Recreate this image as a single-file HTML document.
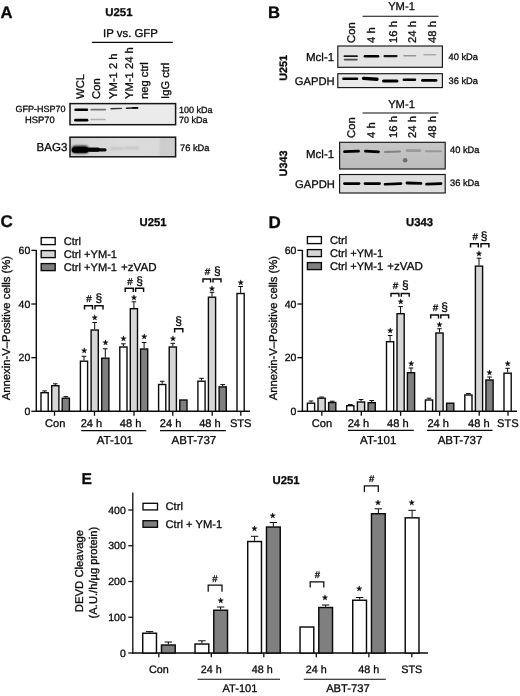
<!DOCTYPE html>
<html lang="en"><head><meta charset="utf-8"><title>Figure</title>
<style>html,body{margin:0;padding:0;background:#fff}svg{display:block}text{fill:#0a0a0a;stroke:#0a0a0a;stroke-width:0.3px;stroke-linejoin:round}</style>
</head><body>
<svg width="520" height="696" viewBox="0 0 520 696" font-family='"Liberation Sans", sans-serif' text-rendering="geometricPrecision">
<defs><filter id="b1" filterUnits="userSpaceOnUse" x="0" y="0" width="520" height="696"><feGaussianBlur stdDeviation="0.7"/></filter><filter id="b2" filterUnits="userSpaceOnUse" x="0" y="0" width="520" height="696"><feGaussianBlur stdDeviation="1.1"/></filter><linearGradient id="gA2" x1="0" x2="1" y1="0" y2="0"><stop offset="0" stop-color="#d2d2d2"/><stop offset="0.5" stop-color="#dcdcdc"/><stop offset="0.84" stop-color="#dadada"/><stop offset="0.86" stop-color="#cccccc"/><stop offset="1" stop-color="#cfcfcf"/></linearGradient><linearGradient id="gB3" x1="0" x2="0" y1="0" y2="1"><stop offset="0" stop-color="#c6c6c6"/><stop offset="1" stop-color="#bcbcbc"/></linearGradient></defs>
<text x="0.40" y="18.30" font-size="16.6" font-weight="bold">A</text>
<text x="118.90" y="16.20" font-size="11.4" text-anchor="middle" font-weight="bold">U251</text>
<text x="130.50" y="36.80" font-size="11.4" text-anchor="middle">IP vs. GFP</text>
<line x1="92.00" y1="42.45" x2="172.80" y2="42.45" stroke="#0a0a0a" stroke-width="1.25"/>
<text transform="translate(84.10 98.90) rotate(-90)" font-size="11.2">WCL</text>
<text transform="translate(100.10 98.90) rotate(-90)" font-size="11.2">Con</text>
<text transform="translate(117.10 98.90) rotate(-90)" font-size="11.2">YM-1 2 h</text>
<text transform="translate(133.10 98.90) rotate(-90)" font-size="11.2">YM-1 24 h</text>
<text transform="translate(148.10 98.90) rotate(-90)" font-size="11.2">neg ctrl</text>
<text transform="translate(169.10 98.90) rotate(-90)" font-size="11.2">IgG ctrl</text>
<text x="15.50" y="111.50" font-size="9">GFP-HSP70</text>
<text x="25.00" y="123.00" font-size="9.4">HSP70</text>
<text x="36.60" y="150.90" font-size="11.5">BAG3</text>
<text x="179.00" y="112.50" font-size="9">100 kDa</text>
<text x="179.00" y="123.10" font-size="9">70 kDa</text>
<text x="180.00" y="151.10" font-size="9.3">76 kDa</text>
<clipPath id="cA1"><rect x="70" y="103.6" width="105.6" height="21.10000000000001"/></clipPath>
<rect x="70.00" y="103.60" width="105.60" height="21.10" fill="#ebebeb"/>
<g clip-path="url(#cA1)">
<line x1="75.50" y1="109.70" x2="87.00" y2="109.70" stroke="#000" stroke-width="2.4" stroke-linecap="round" opacity="1.0" filter="url(#b1)"/>
<line x1="75.50" y1="120.20" x2="87.00" y2="120.20" stroke="#000" stroke-width="2.8" stroke-linecap="round" opacity="1.0" filter="url(#b1)"/>
<line x1="91.00" y1="109.60" x2="105.50" y2="109.60" stroke="#555" stroke-width="1.6" stroke-linecap="round" opacity="0.8" filter="url(#b1)"/>
<line x1="91.00" y1="119.60" x2="105.00" y2="119.60" stroke="#888" stroke-width="1.5" stroke-linecap="round" opacity="0.6" filter="url(#b1)"/>
<line x1="111.00" y1="108.80" x2="121.50" y2="108.40" stroke="#222" stroke-width="1.4" stroke-linecap="round" opacity="0.9" filter="url(#b1)"/>
<line x1="126.50" y1="108.20" x2="137.50" y2="107.80" stroke="#111" stroke-width="1.5" stroke-linecap="round" opacity="0.95" filter="url(#b1)"/>
<line x1="133.00" y1="107.90" x2="137.50" y2="107.90" stroke="#000" stroke-width="1.8" stroke-linecap="round" opacity="0.9" filter="url(#b1)"/>
</g>
<rect x="70.00" y="103.60" width="105.60" height="21.10" fill="none" stroke="#151515" stroke-width="1.5"/>
<clipPath id="cA2"><rect x="70" y="137.2" width="105.6" height="19.600000000000023"/></clipPath>
<rect x="70.00" y="137.20" width="105.60" height="19.60" fill="url(#gA2)"/>
<g clip-path="url(#cA2)">
<line x1="75.50" y1="149.50" x2="85.00" y2="149.50" stroke="#000" stroke-width="7.5" stroke-linecap="round" opacity="1" filter="url(#b2)"/>
<line x1="74.50" y1="150.00" x2="86.00" y2="150.00" stroke="#000" stroke-width="5.5" stroke-linecap="round" opacity="1" filter="url(#b1)"/>
<line x1="90.00" y1="149.80" x2="105.00" y2="149.80" stroke="#000" stroke-width="3.2" stroke-linecap="round" opacity="0.95" filter="url(#b1)"/>
<line x1="89.00" y1="149.60" x2="98.00" y2="149.60" stroke="#000" stroke-width="4.2" stroke-linecap="round" opacity="0.95" filter="url(#b1)"/>
<line x1="111.00" y1="148.50" x2="123.00" y2="148.50" stroke="#aaa" stroke-width="2.5" stroke-linecap="round" opacity="0.5" filter="url(#b2)"/>
<line x1="126.00" y1="148.00" x2="138.00" y2="148.00" stroke="#aaa" stroke-width="2.5" stroke-linecap="round" opacity="0.5" filter="url(#b2)"/>
</g>
<rect x="70.00" y="137.20" width="105.60" height="19.60" fill="none" stroke="#151515" stroke-width="1.5"/>
<text x="268.00" y="17.80" font-size="16.6" font-weight="bold">B</text>
<text x="401.50" y="10.20" font-size="11.2" text-anchor="middle">YM-1</text>
<line x1="362.50" y1="16.30" x2="438.50" y2="16.30" stroke="#0a0a0a" stroke-width="1.1"/>
<text transform="translate(354.90 42.90) rotate(-90)" font-size="11.2">Con</text>
<text transform="translate(375.40 42.90) rotate(-90)" font-size="11.2">4 h</text>
<text transform="translate(396.90 42.90) rotate(-90)" font-size="11.2">16 h</text>
<text transform="translate(415.90 42.90) rotate(-90)" font-size="11.2">24 h</text>
<text transform="translate(435.90 42.90) rotate(-90)" font-size="11.2">48 h</text>
<text x="401.50" y="107.60" font-size="11.2" text-anchor="middle">YM-1</text>
<line x1="362.50" y1="113.00" x2="438.50" y2="113.00" stroke="#0a0a0a" stroke-width="1.1"/>
<text transform="translate(354.90 137.90) rotate(-90)" font-size="11.2">Con</text>
<text transform="translate(375.40 137.90) rotate(-90)" font-size="11.2">4 h</text>
<text transform="translate(396.90 137.90) rotate(-90)" font-size="11.2">16 h</text>
<text transform="translate(415.90 137.90) rotate(-90)" font-size="11.2">24 h</text>
<text transform="translate(435.90 137.90) rotate(-90)" font-size="11.2">48 h</text>
<text x="306.00" y="61.30" font-size="11.5">Mcl-1</text>
<text x="294.80" y="84.90" font-size="11.2">GAPDH</text>
<text transform="translate(287.40 67.80) rotate(-90)" font-size="10.8" text-anchor="middle" font-weight="bold">U251</text>
<text x="448.50" y="60.00" font-size="9.3">40 kDa</text>
<text x="448.50" y="83.80" font-size="9.3">36 kDa</text>
<clipPath id="cB1"><rect x="337.8" y="46" width="104.59999999999997" height="21.299999999999997"/></clipPath>
<rect x="337.80" y="46.00" width="104.60" height="21.30" fill="#e4e4e4"/>
<g clip-path="url(#cB1)">
<line x1="344.50" y1="56.20" x2="357.00" y2="56.20" stroke="#111" stroke-width="1.8" stroke-linecap="round" opacity="0.95" filter="url(#b1)"/>
<line x1="344.50" y1="59.60" x2="357.00" y2="59.60" stroke="#333" stroke-width="1.6" stroke-linecap="round" opacity="0.85" filter="url(#b1)"/>
<line x1="365.00" y1="56.30" x2="378.00" y2="56.30" stroke="#000" stroke-width="2.6" stroke-linecap="round" opacity="1.0" filter="url(#b1)"/>
<line x1="384.50" y1="56.10" x2="396.50" y2="56.10" stroke="#111" stroke-width="2.2" stroke-linecap="round" opacity="0.95" filter="url(#b1)"/>
<line x1="404.00" y1="55.70" x2="415.50" y2="55.70" stroke="#777" stroke-width="1.5" stroke-linecap="round" opacity="0.7" filter="url(#b1)"/>
<line x1="424.00" y1="54.80" x2="435.50" y2="54.80" stroke="#888" stroke-width="1.5" stroke-linecap="round" opacity="0.6" filter="url(#b1)"/>
</g>
<rect x="337.80" y="46.00" width="104.60" height="21.30" fill="none" stroke="#151515" stroke-width="1.15"/>
<clipPath id="cB2"><rect x="337.8" y="73.7" width="104.59999999999997" height="13.899999999999991"/></clipPath>
<rect x="337.80" y="73.70" width="104.60" height="13.90" fill="#e9e9e9"/>
<g clip-path="url(#cB2)">
<line x1="343.50" y1="78.80" x2="357.00" y2="78.80" stroke="#000" stroke-width="2.6" stroke-linecap="round" opacity="1.0" filter="url(#b1)"/>
<line x1="363.50" y1="78.40" x2="377.00" y2="79.20" stroke="#000" stroke-width="3.4" stroke-linecap="round" opacity="1.0" filter="url(#b1)"/>
<line x1="383.50" y1="81.00" x2="397.00" y2="81.00" stroke="#000" stroke-width="3.0" stroke-linecap="round" opacity="1.0" filter="url(#b1)"/>
<line x1="403.80" y1="79.70" x2="415.00" y2="79.70" stroke="#000" stroke-width="2.5" stroke-linecap="round" opacity="1.0" filter="url(#b1)"/>
<line x1="422.50" y1="80.40" x2="436.00" y2="80.40" stroke="#000" stroke-width="2.9" stroke-linecap="round" opacity="1.0" filter="url(#b1)"/>
</g>
<rect x="337.80" y="73.70" width="104.60" height="13.90" fill="none" stroke="#151515" stroke-width="1.15"/>
<text x="306.00" y="157.60" font-size="11.5">Mcl-1</text>
<text x="295.00" y="187.60" font-size="11.2">GAPDH</text>
<text transform="translate(287.20 163.50) rotate(-90)" font-size="10.8" text-anchor="middle" font-weight="bold">U343</text>
<text x="450.00" y="153.00" font-size="9.3">40 kDa</text>
<text x="450.00" y="185.50" font-size="9.3">36 kDa</text>
<clipPath id="cB3"><rect x="339.6" y="142.3" width="105.59999999999997" height="26.69999999999999"/></clipPath>
<rect x="339.60" y="142.30" width="105.60" height="26.70" fill="url(#gB3)"/>
<g clip-path="url(#cB3)">
<line x1="344.50" y1="151.60" x2="358.50" y2="151.20" stroke="#000" stroke-width="2.8" stroke-linecap="round" opacity="1.0" filter="url(#b1)"/>
<line x1="365.50" y1="151.20" x2="378.50" y2="151.80" stroke="#000" stroke-width="2.8" stroke-linecap="round" opacity="1.0" filter="url(#b1)"/>
<line x1="385.00" y1="152.00" x2="400.00" y2="151.40" stroke="#666" stroke-width="2.0" stroke-linecap="round" opacity="0.7" filter="url(#b1)"/>
<line x1="407.00" y1="150.60" x2="420.00" y2="150.60" stroke="#777" stroke-width="2.6" stroke-linecap="round" opacity="0.55" filter="url(#b1)"/>
<line x1="426.00" y1="151.30" x2="441.00" y2="151.30" stroke="#777" stroke-width="2.0" stroke-linecap="round" opacity="0.55" filter="url(#b1)"/>
<circle cx="405.2" cy="160.2" r="2.3" fill="#6e6e6e" filter="url(#b1)"/>
</g>
<rect x="339.60" y="142.30" width="105.60" height="26.70" fill="none" stroke="#151515" stroke-width="1.15"/>
<clipPath id="cB4"><rect x="339.6" y="174.5" width="105.59999999999997" height="18.5"/></clipPath>
<rect x="339.60" y="174.50" width="105.60" height="18.50" fill="#dedede"/>
<g clip-path="url(#cB4)">
<line x1="344.50" y1="183.60" x2="359.00" y2="183.60" stroke="#000" stroke-width="2.8" stroke-linecap="round" opacity="1.0" filter="url(#b1)"/>
<line x1="365.00" y1="183.60" x2="379.50" y2="183.60" stroke="#000" stroke-width="2.8" stroke-linecap="round" opacity="1.0" filter="url(#b1)"/>
<line x1="385.00" y1="184.20" x2="401.00" y2="183.60" stroke="#000" stroke-width="2.6" stroke-linecap="round" opacity="1.0" filter="url(#b1)"/>
<line x1="407.00" y1="183.00" x2="421.00" y2="183.40" stroke="#000" stroke-width="2.8" stroke-linecap="round" opacity="1.0" filter="url(#b1)"/>
<line x1="426.50" y1="184.20" x2="441.00" y2="183.60" stroke="#000" stroke-width="2.8" stroke-linecap="round" opacity="1.0" filter="url(#b1)"/>
</g>
<rect x="339.60" y="174.50" width="105.60" height="18.50" fill="none" stroke="#151515" stroke-width="1.15"/>
<text x="0.40" y="226.60" font-size="17" font-weight="bold">C</text>
<text x="153.00" y="225.50" font-size="11.3" text-anchor="middle" font-weight="bold">U251</text>
<text transform="translate(10.20 328.10) rotate(-90)" font-size="11.3" text-anchor="middle">Annexin-V–Positive cells (%)</text>
<line x1="36.30" y1="250.00" x2="36.30" y2="412.00" stroke="#0a0a0a" stroke-width="1.4"/>
<line x1="35.60" y1="411.30" x2="250.00" y2="411.30" stroke="#0a0a0a" stroke-width="1.4"/>
<line x1="31.30" y1="250.38" x2="36.30" y2="250.38" stroke="#0a0a0a" stroke-width="1.3"/>
<text x="30.30" y="254.18" font-size="10.5" text-anchor="end">60</text>
<line x1="31.30" y1="304.02" x2="36.30" y2="304.02" stroke="#0a0a0a" stroke-width="1.3"/>
<text x="30.30" y="307.82" font-size="10.5" text-anchor="end">40</text>
<line x1="31.30" y1="357.66" x2="36.30" y2="357.66" stroke="#0a0a0a" stroke-width="1.3"/>
<text x="30.30" y="361.46" font-size="10.5" text-anchor="end">20</text>
<line x1="31.30" y1="411.30" x2="36.30" y2="411.30" stroke="#0a0a0a" stroke-width="1.3"/>
<text x="30.30" y="415.10" font-size="10.5" text-anchor="end">0</text>
<rect x="41.20" y="237.60" width="14.00" height="7.00" fill="#ffffff" stroke="#0a0a0a" stroke-width="1.35"/>
<text x="63.70" y="245.30" font-size="11.1">Ctrl</text>
<rect x="41.20" y="250.60" width="14.00" height="7.00" fill="#d6d6d6" stroke="#0a0a0a" stroke-width="1.35"/>
<text x="63.70" y="258.30" font-size="11.1">Ctrl +YM-1</text>
<rect x="41.20" y="263.60" width="14.00" height="7.00" fill="#7f7f7f" stroke="#0a0a0a" stroke-width="1.35"/>
<text x="63.70" y="271.30" font-size="11.1">Ctrl +YM-1 <tspan dx="0.9" font-size="11.6">+zVAD</tspan></text>
<line x1="44.60" y1="392.00" x2="44.60" y2="390.90" stroke="#0a0a0a" stroke-width="1.0"/>
<line x1="42.30" y1="390.90" x2="46.90" y2="390.90" stroke="#0a0a0a" stroke-width="1.0"/>
<rect x="41.00" y="392.70" width="7.20" height="18.60" fill="#ffffff" stroke="#0a0a0a" stroke-width="1.4"/>
<line x1="55.30" y1="385.00" x2="55.30" y2="383.80" stroke="#0a0a0a" stroke-width="1.0"/>
<line x1="53.00" y1="383.80" x2="57.60" y2="383.80" stroke="#0a0a0a" stroke-width="1.0"/>
<rect x="51.70" y="385.70" width="7.20" height="25.60" fill="#d6d6d6" stroke="#0a0a0a" stroke-width="1.4"/>
<line x1="65.80" y1="397.50" x2="65.80" y2="396.60" stroke="#0a0a0a" stroke-width="1.0"/>
<line x1="63.50" y1="396.60" x2="68.10" y2="396.60" stroke="#0a0a0a" stroke-width="1.0"/>
<rect x="62.20" y="398.20" width="7.20" height="13.10" fill="#7f7f7f" stroke="#0a0a0a" stroke-width="1.4"/>
<line x1="54.50" y1="411.30" x2="54.50" y2="415.80" stroke="#0a0a0a" stroke-width="1.3"/>
<text x="55.30" y="427.30" font-size="11.1" text-anchor="middle">Con</text>
<line x1="84.00" y1="360.50" x2="84.00" y2="356.30" stroke="#0a0a0a" stroke-width="1.0"/>
<line x1="81.70" y1="356.30" x2="86.30" y2="356.30" stroke="#0a0a0a" stroke-width="1.0"/>
<rect x="80.40" y="361.20" width="7.20" height="50.10" fill="#ffffff" stroke="#0a0a0a" stroke-width="1.4"/>
<line x1="94.70" y1="329.30" x2="94.70" y2="322.50" stroke="#0a0a0a" stroke-width="1.0"/>
<line x1="92.40" y1="322.50" x2="97.00" y2="322.50" stroke="#0a0a0a" stroke-width="1.0"/>
<rect x="91.10" y="330.00" width="7.20" height="81.30" fill="#d6d6d6" stroke="#0a0a0a" stroke-width="1.4"/>
<line x1="105.30" y1="357.50" x2="105.30" y2="348.80" stroke="#0a0a0a" stroke-width="1.0"/>
<line x1="103.00" y1="348.80" x2="107.60" y2="348.80" stroke="#0a0a0a" stroke-width="1.0"/>
<rect x="101.70" y="358.20" width="7.20" height="53.10" fill="#7f7f7f" stroke="#0a0a0a" stroke-width="1.4"/>
<line x1="94.50" y1="411.30" x2="94.50" y2="415.80" stroke="#0a0a0a" stroke-width="1.3"/>
<text x="91.50" y="427.30" font-size="11.1" text-anchor="middle">24 h</text>
<line x1="123.40" y1="346.30" x2="123.40" y2="343.80" stroke="#0a0a0a" stroke-width="1.0"/>
<line x1="121.10" y1="343.80" x2="125.70" y2="343.80" stroke="#0a0a0a" stroke-width="1.0"/>
<rect x="119.80" y="347.00" width="7.20" height="64.30" fill="#ffffff" stroke="#0a0a0a" stroke-width="1.4"/>
<line x1="133.90" y1="308.00" x2="133.90" y2="301.80" stroke="#0a0a0a" stroke-width="1.0"/>
<line x1="131.60" y1="301.80" x2="136.20" y2="301.80" stroke="#0a0a0a" stroke-width="1.0"/>
<rect x="130.30" y="308.70" width="7.20" height="102.60" fill="#d6d6d6" stroke="#0a0a0a" stroke-width="1.4"/>
<line x1="144.10" y1="348.30" x2="144.10" y2="342.50" stroke="#0a0a0a" stroke-width="1.0"/>
<line x1="141.80" y1="342.50" x2="146.40" y2="342.50" stroke="#0a0a0a" stroke-width="1.0"/>
<rect x="140.50" y="349.00" width="7.20" height="62.30" fill="#7f7f7f" stroke="#0a0a0a" stroke-width="1.4"/>
<line x1="134.00" y1="411.30" x2="134.00" y2="415.80" stroke="#0a0a0a" stroke-width="1.3"/>
<text x="130.60" y="427.30" font-size="11.1" text-anchor="middle">48 h</text>
<line x1="162.20" y1="383.80" x2="162.20" y2="381.30" stroke="#0a0a0a" stroke-width="1.0"/>
<line x1="159.90" y1="381.30" x2="164.50" y2="381.30" stroke="#0a0a0a" stroke-width="1.0"/>
<rect x="158.60" y="384.50" width="7.20" height="26.80" fill="#ffffff" stroke="#0a0a0a" stroke-width="1.4"/>
<line x1="172.80" y1="346.30" x2="172.80" y2="343.30" stroke="#0a0a0a" stroke-width="1.0"/>
<line x1="170.50" y1="343.30" x2="175.10" y2="343.30" stroke="#0a0a0a" stroke-width="1.0"/>
<rect x="169.20" y="347.00" width="7.20" height="64.30" fill="#d6d6d6" stroke="#0a0a0a" stroke-width="1.4"/>
<rect x="179.80" y="400.00" width="7.20" height="11.30" fill="#7f7f7f" stroke="#0a0a0a" stroke-width="1.4"/>
<line x1="172.80" y1="411.30" x2="172.80" y2="415.80" stroke="#0a0a0a" stroke-width="1.3"/>
<text x="170.60" y="427.30" font-size="11.1" text-anchor="middle">24 h</text>
<line x1="201.50" y1="380.50" x2="201.50" y2="378.30" stroke="#0a0a0a" stroke-width="1.0"/>
<line x1="199.20" y1="378.30" x2="203.80" y2="378.30" stroke="#0a0a0a" stroke-width="1.0"/>
<rect x="197.90" y="381.20" width="7.20" height="30.10" fill="#ffffff" stroke="#0a0a0a" stroke-width="1.4"/>
<line x1="212.00" y1="296.50" x2="212.00" y2="292.30" stroke="#0a0a0a" stroke-width="1.0"/>
<line x1="209.70" y1="292.30" x2="214.30" y2="292.30" stroke="#0a0a0a" stroke-width="1.0"/>
<rect x="208.40" y="297.20" width="7.20" height="114.10" fill="#d6d6d6" stroke="#0a0a0a" stroke-width="1.4"/>
<line x1="222.70" y1="386.20" x2="222.70" y2="384.60" stroke="#0a0a0a" stroke-width="1.0"/>
<line x1="220.40" y1="384.60" x2="225.00" y2="384.60" stroke="#0a0a0a" stroke-width="1.0"/>
<rect x="219.10" y="386.90" width="7.20" height="24.40" fill="#7f7f7f" stroke="#0a0a0a" stroke-width="1.4"/>
<line x1="212.20" y1="411.30" x2="212.20" y2="415.80" stroke="#0a0a0a" stroke-width="1.3"/>
<text x="210.00" y="427.30" font-size="11.1" text-anchor="middle">48 h</text>
<line x1="240.60" y1="292.80" x2="240.60" y2="286.50" stroke="#0a0a0a" stroke-width="1.0"/>
<line x1="238.30" y1="286.50" x2="242.90" y2="286.50" stroke="#0a0a0a" stroke-width="1.0"/>
<rect x="237.00" y="293.50" width="7.20" height="117.80" fill="#ffffff" stroke="#0a0a0a" stroke-width="1.4"/>
<line x1="240.80" y1="411.30" x2="240.80" y2="415.80" stroke="#0a0a0a" stroke-width="1.3"/>
<text x="240.70" y="427.30" font-size="11.1" text-anchor="middle">STS</text>
<text x="84.20" y="353.09" font-size="7.2" text-anchor="middle" font-family="DejaVu Sans, sans-serif" fill="#111">★</text>
<text x="94.80" y="319.59" font-size="7.2" text-anchor="middle" font-family="DejaVu Sans, sans-serif" fill="#111">★</text>
<text x="105.40" y="345.09" font-size="7.2" text-anchor="middle" font-family="DejaVu Sans, sans-serif" fill="#111">★</text>
<path d="M84.50 309.50V305.80H92.50V309.50" fill="none" stroke="#0a0a0a" stroke-width="1.45"/>
<path d="M95.00 309.50V305.80H103.00V309.50" fill="none" stroke="#0a0a0a" stroke-width="1.45"/>
<text x="89.00" y="301.90" font-size="9.8" text-anchor="middle">#</text>
<text x="98.90" y="301.80" font-size="12" text-anchor="middle">§</text>
<text x="123.50" y="341.39" font-size="7.2" text-anchor="middle" font-family="DejaVu Sans, sans-serif" fill="#111">★</text>
<text x="134.00" y="299.59" font-size="7.2" text-anchor="middle" font-family="DejaVu Sans, sans-serif" fill="#111">★</text>
<text x="144.20" y="339.39" font-size="7.2" text-anchor="middle" font-family="DejaVu Sans, sans-serif" fill="#111">★</text>
<path d="M125.20 292.00V288.30H133.30V292.00" fill="none" stroke="#0a0a0a" stroke-width="1.45"/>
<path d="M135.60 292.00V288.30H143.60V292.00" fill="none" stroke="#0a0a0a" stroke-width="1.45"/>
<text x="130.00" y="284.90" font-size="9.8" text-anchor="middle">#</text>
<text x="139.50" y="284.80" font-size="12" text-anchor="middle">§</text>
<text x="172.90" y="341.39" font-size="7.2" text-anchor="middle" font-family="DejaVu Sans, sans-serif" fill="#111">★</text>
<path d="M174.60 332.60V328.80H182.80V332.60" fill="none" stroke="#0a0a0a" stroke-width="1.45"/>
<text x="178.50" y="325.00" font-size="12" text-anchor="middle">§</text>
<text x="212.10" y="290.59" font-size="7.2" text-anchor="middle" font-family="DejaVu Sans, sans-serif" fill="#111">★</text>
<path d="M203.00 282.50V279.00H210.60V282.50" fill="none" stroke="#0a0a0a" stroke-width="1.45"/>
<path d="M213.00 282.50V279.00H221.00V282.50" fill="none" stroke="#0a0a0a" stroke-width="1.45"/>
<text x="207.40" y="274.70" font-size="9.8" text-anchor="middle">#</text>
<text x="217.40" y="274.50" font-size="12" text-anchor="middle">§</text>
<text x="240.80" y="284.59" font-size="7.2" text-anchor="middle" font-family="DejaVu Sans, sans-serif" fill="#111">★</text>
<line x1="81.30" y1="430.70" x2="146.30" y2="430.70" stroke="#0a0a0a" stroke-width="1.2"/>
<line x1="160.00" y1="430.70" x2="225.80" y2="430.70" stroke="#0a0a0a" stroke-width="1.2"/>
<text x="114.90" y="444.40" font-size="11.5" text-anchor="middle">AT-101</text>
<text x="193.90" y="444.40" font-size="11.5" text-anchor="middle">ABT-737</text>
<text x="268.60" y="227.50" font-size="17" font-weight="bold">D</text>
<text x="419.50" y="225.50" font-size="11.3" text-anchor="middle" font-weight="bold">U343</text>
<text transform="translate(277.20 328.10) rotate(-90)" font-size="11.3" text-anchor="middle">Annexin-V–Positive cells (%)</text>
<line x1="302.40" y1="250.00" x2="302.40" y2="412.00" stroke="#0a0a0a" stroke-width="1.4"/>
<line x1="301.70" y1="411.30" x2="517.00" y2="411.30" stroke="#0a0a0a" stroke-width="1.4"/>
<line x1="297.40" y1="250.38" x2="302.40" y2="250.38" stroke="#0a0a0a" stroke-width="1.3"/>
<text x="296.40" y="254.18" font-size="10.5" text-anchor="end">60</text>
<line x1="297.40" y1="304.02" x2="302.40" y2="304.02" stroke="#0a0a0a" stroke-width="1.3"/>
<text x="296.40" y="307.82" font-size="10.5" text-anchor="end">40</text>
<line x1="297.40" y1="357.66" x2="302.40" y2="357.66" stroke="#0a0a0a" stroke-width="1.3"/>
<text x="296.40" y="361.46" font-size="10.5" text-anchor="end">20</text>
<line x1="297.40" y1="411.30" x2="302.40" y2="411.30" stroke="#0a0a0a" stroke-width="1.3"/>
<text x="296.40" y="415.10" font-size="10.5" text-anchor="end">0</text>
<rect x="307.40" y="236.60" width="14.00" height="7.00" fill="#ffffff" stroke="#0a0a0a" stroke-width="1.35"/>
<text x="329.90" y="244.30" font-size="11.1">Ctrl</text>
<rect x="307.40" y="249.60" width="14.00" height="7.00" fill="#d6d6d6" stroke="#0a0a0a" stroke-width="1.35"/>
<text x="329.90" y="257.30" font-size="11.1">Ctrl +YM-1</text>
<rect x="307.40" y="262.60" width="14.00" height="7.00" fill="#7f7f7f" stroke="#0a0a0a" stroke-width="1.35"/>
<text x="329.90" y="270.30" font-size="11.1">Ctrl +YM-1 <tspan dx="0.9" font-size="11.6">+zVAD</tspan></text>
<line x1="311.00" y1="402.50" x2="311.00" y2="401.00" stroke="#0a0a0a" stroke-width="1.0"/>
<line x1="308.70" y1="401.00" x2="313.30" y2="401.00" stroke="#0a0a0a" stroke-width="1.0"/>
<rect x="307.40" y="403.20" width="7.20" height="8.10" fill="#ffffff" stroke="#0a0a0a" stroke-width="1.4"/>
<line x1="321.60" y1="397.50" x2="321.60" y2="397.00" stroke="#0a0a0a" stroke-width="1.0"/>
<line x1="319.30" y1="397.00" x2="323.90" y2="397.00" stroke="#0a0a0a" stroke-width="1.0"/>
<rect x="318.00" y="398.20" width="7.20" height="13.10" fill="#d6d6d6" stroke="#0a0a0a" stroke-width="1.4"/>
<line x1="332.20" y1="401.80" x2="332.20" y2="401.20" stroke="#0a0a0a" stroke-width="1.0"/>
<line x1="329.90" y1="401.20" x2="334.50" y2="401.20" stroke="#0a0a0a" stroke-width="1.0"/>
<rect x="328.60" y="402.50" width="7.20" height="8.80" fill="#7f7f7f" stroke="#0a0a0a" stroke-width="1.4"/>
<line x1="321.80" y1="411.30" x2="321.80" y2="415.80" stroke="#0a0a0a" stroke-width="1.3"/>
<text x="322.00" y="427.30" font-size="11.1" text-anchor="middle">Con</text>
<line x1="350.30" y1="405.00" x2="350.30" y2="404.60" stroke="#0a0a0a" stroke-width="1.0"/>
<line x1="348.00" y1="404.60" x2="352.60" y2="404.60" stroke="#0a0a0a" stroke-width="1.0"/>
<rect x="346.70" y="405.70" width="7.20" height="5.60" fill="#ffffff" stroke="#0a0a0a" stroke-width="1.4"/>
<line x1="361.00" y1="401.30" x2="361.00" y2="399.50" stroke="#0a0a0a" stroke-width="1.0"/>
<line x1="358.70" y1="399.50" x2="363.30" y2="399.50" stroke="#0a0a0a" stroke-width="1.0"/>
<rect x="357.40" y="402.00" width="7.20" height="9.30" fill="#d6d6d6" stroke="#0a0a0a" stroke-width="1.4"/>
<line x1="371.70" y1="402.00" x2="371.70" y2="400.60" stroke="#0a0a0a" stroke-width="1.0"/>
<line x1="369.40" y1="400.60" x2="374.00" y2="400.60" stroke="#0a0a0a" stroke-width="1.0"/>
<rect x="368.10" y="402.70" width="7.20" height="8.60" fill="#7f7f7f" stroke="#0a0a0a" stroke-width="1.4"/>
<line x1="361.30" y1="411.30" x2="361.30" y2="415.80" stroke="#0a0a0a" stroke-width="1.3"/>
<text x="358.50" y="427.30" font-size="11.1" text-anchor="middle">24 h</text>
<line x1="390.10" y1="341.00" x2="390.10" y2="335.50" stroke="#0a0a0a" stroke-width="1.0"/>
<line x1="387.80" y1="335.50" x2="392.40" y2="335.50" stroke="#0a0a0a" stroke-width="1.0"/>
<rect x="386.50" y="341.70" width="7.20" height="69.60" fill="#ffffff" stroke="#0a0a0a" stroke-width="1.4"/>
<line x1="400.60" y1="313.00" x2="400.60" y2="306.60" stroke="#0a0a0a" stroke-width="1.0"/>
<line x1="398.30" y1="306.60" x2="402.90" y2="306.60" stroke="#0a0a0a" stroke-width="1.0"/>
<rect x="397.00" y="313.70" width="7.20" height="97.60" fill="#d6d6d6" stroke="#0a0a0a" stroke-width="1.4"/>
<line x1="411.00" y1="372.00" x2="411.00" y2="368.00" stroke="#0a0a0a" stroke-width="1.0"/>
<line x1="408.70" y1="368.00" x2="413.30" y2="368.00" stroke="#0a0a0a" stroke-width="1.0"/>
<rect x="407.40" y="372.70" width="7.20" height="38.60" fill="#7f7f7f" stroke="#0a0a0a" stroke-width="1.4"/>
<line x1="400.60" y1="411.30" x2="400.60" y2="415.80" stroke="#0a0a0a" stroke-width="1.3"/>
<text x="397.90" y="427.30" font-size="11.1" text-anchor="middle">48 h</text>
<line x1="429.00" y1="399.30" x2="429.00" y2="398.20" stroke="#0a0a0a" stroke-width="1.0"/>
<line x1="426.70" y1="398.20" x2="431.30" y2="398.20" stroke="#0a0a0a" stroke-width="1.0"/>
<rect x="425.40" y="400.00" width="7.20" height="11.30" fill="#ffffff" stroke="#0a0a0a" stroke-width="1.4"/>
<line x1="439.50" y1="332.30" x2="439.50" y2="328.80" stroke="#0a0a0a" stroke-width="1.0"/>
<line x1="437.20" y1="328.80" x2="441.80" y2="328.80" stroke="#0a0a0a" stroke-width="1.0"/>
<rect x="435.90" y="333.00" width="7.20" height="78.30" fill="#d6d6d6" stroke="#0a0a0a" stroke-width="1.4"/>
<rect x="446.60" y="403.20" width="7.20" height="8.10" fill="#7f7f7f" stroke="#0a0a0a" stroke-width="1.4"/>
<line x1="439.60" y1="411.30" x2="439.60" y2="415.80" stroke="#0a0a0a" stroke-width="1.3"/>
<text x="438.20" y="427.30" font-size="11.1" text-anchor="middle">24 h</text>
<line x1="468.40" y1="394.30" x2="468.40" y2="393.50" stroke="#0a0a0a" stroke-width="1.0"/>
<line x1="466.10" y1="393.50" x2="470.70" y2="393.50" stroke="#0a0a0a" stroke-width="1.0"/>
<rect x="464.80" y="395.00" width="7.20" height="16.30" fill="#ffffff" stroke="#0a0a0a" stroke-width="1.4"/>
<line x1="479.00" y1="265.40" x2="479.00" y2="258.20" stroke="#0a0a0a" stroke-width="1.0"/>
<line x1="476.70" y1="258.20" x2="481.30" y2="258.20" stroke="#0a0a0a" stroke-width="1.0"/>
<rect x="475.40" y="266.10" width="7.20" height="145.20" fill="#d6d6d6" stroke="#0a0a0a" stroke-width="1.4"/>
<line x1="489.50" y1="379.30" x2="489.50" y2="377.00" stroke="#0a0a0a" stroke-width="1.0"/>
<line x1="487.20" y1="377.00" x2="491.80" y2="377.00" stroke="#0a0a0a" stroke-width="1.0"/>
<rect x="485.90" y="380.00" width="7.20" height="31.30" fill="#7f7f7f" stroke="#0a0a0a" stroke-width="1.4"/>
<line x1="479.20" y1="411.30" x2="479.20" y2="415.80" stroke="#0a0a0a" stroke-width="1.3"/>
<text x="478.90" y="427.30" font-size="11.1" text-anchor="middle">48 h</text>
<line x1="507.60" y1="372.50" x2="507.60" y2="368.30" stroke="#0a0a0a" stroke-width="1.0"/>
<line x1="505.30" y1="368.30" x2="509.90" y2="368.30" stroke="#0a0a0a" stroke-width="1.0"/>
<rect x="504.00" y="373.20" width="7.20" height="38.10" fill="#ffffff" stroke="#0a0a0a" stroke-width="1.4"/>
<line x1="508.00" y1="411.30" x2="508.00" y2="415.80" stroke="#0a0a0a" stroke-width="1.3"/>
<text x="507.90" y="427.30" font-size="11.1" text-anchor="middle">STS</text>
<text x="390.20" y="333.49" font-size="7.2" text-anchor="middle" font-family="DejaVu Sans, sans-serif" fill="#111">★</text>
<text x="400.70" y="303.99" font-size="7.2" text-anchor="middle" font-family="DejaVu Sans, sans-serif" fill="#111">★</text>
<text x="411.20" y="366.39" font-size="7.2" text-anchor="middle" font-family="DejaVu Sans, sans-serif" fill="#111">★</text>
<path d="M391.00 296.80V293.40H398.90V296.80" fill="none" stroke="#0a0a0a" stroke-width="1.45"/>
<path d="M401.30 296.80V293.40H409.20V296.80" fill="none" stroke="#0a0a0a" stroke-width="1.45"/>
<text x="395.40" y="288.70" font-size="9.8" text-anchor="middle">#</text>
<text x="405.30" y="289.00" font-size="12" text-anchor="middle">§</text>
<text x="439.60" y="327.09" font-size="7.2" text-anchor="middle" font-family="DejaVu Sans, sans-serif" fill="#111">★</text>
<path d="M430.70 318.50V315.00H438.50V318.50" fill="none" stroke="#0a0a0a" stroke-width="1.45"/>
<path d="M440.80 318.50V315.00H448.60V318.50" fill="none" stroke="#0a0a0a" stroke-width="1.45"/>
<text x="435.40" y="310.90" font-size="9.8" text-anchor="middle">#</text>
<text x="444.60" y="311.00" font-size="12" text-anchor="middle">§</text>
<text x="479.10" y="255.59" font-size="7.2" text-anchor="middle" font-family="DejaVu Sans, sans-serif" fill="#111">★</text>
<path d="M470.50 247.40V243.80H478.30V247.40" fill="none" stroke="#0a0a0a" stroke-width="1.45"/>
<path d="M481.00 247.40V243.80H488.90V247.40" fill="none" stroke="#0a0a0a" stroke-width="1.45"/>
<text x="475.30" y="239.60" font-size="9.8" text-anchor="middle">#</text>
<text x="484.20" y="239.90" font-size="12" text-anchor="middle">§</text>
<text x="489.60" y="375.09" font-size="7.2" text-anchor="middle" font-family="DejaVu Sans, sans-serif" fill="#111">★</text>
<text x="507.70" y="365.89" font-size="7.2" text-anchor="middle" font-family="DejaVu Sans, sans-serif" fill="#111">★</text>
<line x1="348.00" y1="430.40" x2="413.80" y2="430.40" stroke="#0a0a0a" stroke-width="1.2"/>
<line x1="427.00" y1="430.40" x2="492.50" y2="430.40" stroke="#0a0a0a" stroke-width="1.2"/>
<text x="378.20" y="444.40" font-size="11.5" text-anchor="middle">AT-101</text>
<text x="460.00" y="444.40" font-size="11.5" text-anchor="middle">ABT-737</text>
<text x="81.40" y="483.90" font-size="15.6" font-weight="bold">E</text>
<text x="286.00" y="483.80" font-size="11.3" text-anchor="middle" font-weight="bold">U251</text>
<text transform="translate(83.30 571.00) rotate(-90)" font-size="11.3" text-anchor="middle">DEVD Cleavage</text>
<text transform="translate(97.20 572.60) rotate(-90)" font-size="11.2" text-anchor="middle">(A.U./h/µg protein)</text>
<line x1="132.80" y1="492.50" x2="132.80" y2="653.70" stroke="#0a0a0a" stroke-width="1.3"/>
<line x1="132.15" y1="653.00" x2="428.00" y2="653.00" stroke="#0a0a0a" stroke-width="1.45"/>
<line x1="128.30" y1="653.00" x2="132.80" y2="653.00" stroke="#0a0a0a" stroke-width="1.25"/>
<text x="125.80" y="656.70" font-size="10.5" text-anchor="end">0</text>
<line x1="128.30" y1="617.25" x2="132.80" y2="617.25" stroke="#0a0a0a" stroke-width="1.25"/>
<text x="125.80" y="620.95" font-size="10.5" text-anchor="end">100</text>
<line x1="128.30" y1="581.50" x2="132.80" y2="581.50" stroke="#0a0a0a" stroke-width="1.25"/>
<text x="125.80" y="585.20" font-size="10.5" text-anchor="end">200</text>
<line x1="128.30" y1="545.75" x2="132.80" y2="545.75" stroke="#0a0a0a" stroke-width="1.25"/>
<text x="125.80" y="549.45" font-size="10.5" text-anchor="end">300</text>
<line x1="128.30" y1="510.00" x2="132.80" y2="510.00" stroke="#0a0a0a" stroke-width="1.25"/>
<text x="125.80" y="513.70" font-size="10.5" text-anchor="end">400</text>
<rect x="143.00" y="503.30" width="14.50" height="6.60" fill="#ffffff" stroke="#0a0a0a" stroke-width="1.35"/>
<text x="165.50" y="510.10" font-size="11.2">Ctrl</text>
<rect x="143.00" y="520.70" width="14.50" height="6.60" fill="#7f7f7f" stroke="#0a0a0a" stroke-width="1.35"/>
<text x="165.50" y="527.50" font-size="11.2">Ctrl + YM-1</text>
<line x1="149.60" y1="632.50" x2="149.60" y2="631.60" stroke="#0a0a0a" stroke-width="1.0"/>
<line x1="145.90" y1="631.60" x2="153.30" y2="631.60" stroke="#0a0a0a" stroke-width="1.0"/>
<rect x="142.72" y="633.23" width="13.75" height="19.77" fill="#ffffff" stroke="#0a0a0a" stroke-width="1.45"/>
<line x1="168.35" y1="644.30" x2="168.35" y2="642.00" stroke="#0a0a0a" stroke-width="1.0"/>
<line x1="164.65" y1="642.00" x2="172.05" y2="642.00" stroke="#0a0a0a" stroke-width="1.0"/>
<rect x="161.47" y="645.02" width="13.75" height="7.98" fill="#7f7f7f" stroke="#0a0a0a" stroke-width="1.45"/>
<line x1="158.80" y1="653.00" x2="158.80" y2="657.20" stroke="#0a0a0a" stroke-width="1.3"/>
<text x="158.80" y="673.30" font-size="10.8" text-anchor="middle">Con</text>
<line x1="201.90" y1="643.30" x2="201.90" y2="640.80" stroke="#0a0a0a" stroke-width="1.0"/>
<line x1="198.20" y1="640.80" x2="205.60" y2="640.80" stroke="#0a0a0a" stroke-width="1.0"/>
<rect x="195.03" y="644.02" width="13.75" height="8.98" fill="#ffffff" stroke="#0a0a0a" stroke-width="1.45"/>
<line x1="220.65" y1="609.50" x2="220.65" y2="607.00" stroke="#0a0a0a" stroke-width="1.0"/>
<line x1="216.95" y1="607.00" x2="224.35" y2="607.00" stroke="#0a0a0a" stroke-width="1.0"/>
<rect x="213.78" y="610.23" width="13.75" height="42.77" fill="#7f7f7f" stroke="#0a0a0a" stroke-width="1.45"/>
<line x1="211.30" y1="653.00" x2="211.30" y2="657.20" stroke="#0a0a0a" stroke-width="1.3"/>
<text x="211.30" y="673.30" font-size="10.8" text-anchor="middle">24 h</text>
<line x1="254.60" y1="540.80" x2="254.60" y2="536.30" stroke="#0a0a0a" stroke-width="1.0"/>
<line x1="250.90" y1="536.30" x2="258.30" y2="536.30" stroke="#0a0a0a" stroke-width="1.0"/>
<rect x="247.72" y="541.52" width="13.75" height="111.48" fill="#ffffff" stroke="#0a0a0a" stroke-width="1.45"/>
<line x1="273.35" y1="526.30" x2="273.35" y2="522.50" stroke="#0a0a0a" stroke-width="1.0"/>
<line x1="269.65" y1="522.50" x2="277.05" y2="522.50" stroke="#0a0a0a" stroke-width="1.0"/>
<rect x="266.48" y="527.02" width="13.75" height="125.98" fill="#7f7f7f" stroke="#0a0a0a" stroke-width="1.45"/>
<line x1="263.80" y1="653.00" x2="263.80" y2="657.20" stroke="#0a0a0a" stroke-width="1.3"/>
<text x="262.20" y="673.30" font-size="10.8" text-anchor="middle">48 h</text>
<rect x="300.03" y="627.02" width="13.75" height="25.98" fill="#ffffff" stroke="#0a0a0a" stroke-width="1.45"/>
<line x1="325.65" y1="606.80" x2="325.65" y2="605.00" stroke="#0a0a0a" stroke-width="1.0"/>
<line x1="321.95" y1="605.00" x2="329.35" y2="605.00" stroke="#0a0a0a" stroke-width="1.0"/>
<rect x="318.78" y="607.52" width="13.75" height="45.48" fill="#7f7f7f" stroke="#0a0a0a" stroke-width="1.45"/>
<line x1="316.30" y1="653.00" x2="316.30" y2="657.20" stroke="#0a0a0a" stroke-width="1.3"/>
<text x="316.30" y="673.30" font-size="10.8" text-anchor="middle">24 h</text>
<line x1="359.60" y1="599.50" x2="359.60" y2="597.50" stroke="#0a0a0a" stroke-width="1.0"/>
<line x1="355.90" y1="597.50" x2="363.30" y2="597.50" stroke="#0a0a0a" stroke-width="1.0"/>
<rect x="352.73" y="600.23" width="13.75" height="52.77" fill="#ffffff" stroke="#0a0a0a" stroke-width="1.45"/>
<line x1="378.35" y1="513.00" x2="378.35" y2="508.80" stroke="#0a0a0a" stroke-width="1.0"/>
<line x1="374.65" y1="508.80" x2="382.05" y2="508.80" stroke="#0a0a0a" stroke-width="1.0"/>
<rect x="371.48" y="513.73" width="13.75" height="139.28" fill="#7f7f7f" stroke="#0a0a0a" stroke-width="1.45"/>
<line x1="368.90" y1="653.00" x2="368.90" y2="657.20" stroke="#0a0a0a" stroke-width="1.3"/>
<text x="368.70" y="673.30" font-size="10.8" text-anchor="middle">48 h</text>
<line x1="412.10" y1="517.10" x2="412.10" y2="510.30" stroke="#0a0a0a" stroke-width="1.0"/>
<line x1="408.40" y1="510.30" x2="415.80" y2="510.30" stroke="#0a0a0a" stroke-width="1.0"/>
<rect x="405.23" y="517.83" width="13.75" height="135.17" fill="#ffffff" stroke="#0a0a0a" stroke-width="1.45"/>
<line x1="411.80" y1="653.00" x2="411.80" y2="657.20" stroke="#0a0a0a" stroke-width="1.3"/>
<text x="411.70" y="673.30" font-size="10.8" text-anchor="middle">STS</text>
<line x1="197.50" y1="679.30" x2="280.00" y2="679.30" stroke="#0a0a0a" stroke-width="1.1"/>
<line x1="303.80" y1="679.30" x2="385.80" y2="679.30" stroke="#0a0a0a" stroke-width="1.1"/>
<text x="240.00" y="692.40" font-size="11.1" text-anchor="middle">AT-101</text>
<text x="347.90" y="692.40" font-size="11.2" text-anchor="middle">ABT-737</text>
<text x="220.80" y="603.09" font-size="7.2" text-anchor="middle" font-family="DejaVu Sans, sans-serif" fill="#111">★</text>
<text x="254.50" y="530.59" font-size="7.2" text-anchor="middle" font-family="DejaVu Sans, sans-serif" fill="#111">★</text>
<text x="272.80" y="518.09" font-size="7.2" text-anchor="middle" font-family="DejaVu Sans, sans-serif" fill="#111">★</text>
<text x="325.00" y="600.09" font-size="7.2" text-anchor="middle" font-family="DejaVu Sans, sans-serif" fill="#111">★</text>
<text x="359.30" y="591.39" font-size="7.2" text-anchor="middle" font-family="DejaVu Sans, sans-serif" fill="#111">★</text>
<text x="378.00" y="504.59" font-size="7.2" text-anchor="middle" font-family="DejaVu Sans, sans-serif" fill="#111">★</text>
<text x="411.80" y="505.09" font-size="7.2" text-anchor="middle" font-family="DejaVu Sans, sans-serif" fill="#111">★</text>
<path d="M208.20 591.80V585.00H222.00V591.80" fill="none" stroke="#0a0a0a" stroke-width="1.25"/>
<text x="215.00" y="581.80" font-size="9.5" text-anchor="middle">#</text>
<path d="M310.20 587.60V581.80H323.80V587.60" fill="none" stroke="#0a0a0a" stroke-width="1.25"/>
<text x="317.30" y="577.60" font-size="9.5" text-anchor="middle">#</text>
<path d="M364.40 492.00V485.80H378.30V492.00" fill="none" stroke="#0a0a0a" stroke-width="1.25"/>
<text x="371.60" y="481.80" font-size="9.5" text-anchor="middle">#</text>
</svg>
</body></html>
